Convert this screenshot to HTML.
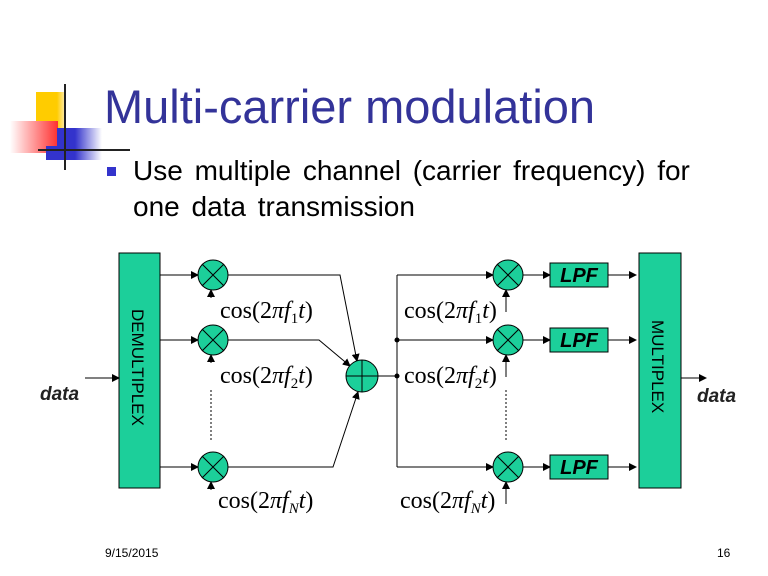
<!DOCTYPE html>
<html><head><style>
body{margin:0;width:768px;height:576px;background:#fff;overflow:hidden;position:relative;font-family:"Liberation Sans",sans-serif}
.a{position:absolute}
</style></head><body>
<div class="a" style="left:36px;top:92px;width:30px;height:38px;background:linear-gradient(90deg,#ffcc00,#ffcc00 70%,#fff0c0)"></div>
<div class="a" style="left:10px;top:121px;width:48px;height:32px;background:linear-gradient(90deg,#fff,#ff3030)"></div>
<div class="a" style="left:57px;top:128px;width:45px;height:32px;background:linear-gradient(90deg,#3333cc,#3333cc 40%,#fff)"></div>
<div class="a" style="left:46px;top:146px;width:14px;height:14px;background:#3333cc"></div>
<div class="a" style="left:64px;top:84px;width:2px;height:86px;background:#222"></div>
<div class="a" style="left:38px;top:149px;width:92px;height:2px;background:#222"></div>
<div class="a" style="left:104px;top:79px;font-size:47px;color:#333399;white-space:nowrap">Multi-carrier modulation</div>
<div class="a" style="left:107px;top:167px;width:9px;height:9px;background:#3333cc"></div>
<div class="a" style="left:133px;top:153px;font-size:28px;word-spacing:4px;line-height:36px;color:#000;width:620px;white-space:nowrap">Use multiple channel (carrier frequency) for<br>one data transmission</div>
<div class="a" style="left:105px;top:546px;font-size:12px">9/15/2015</div>
<div class="a" style="left:717px;top:546px;font-size:12px">16</div>
<svg class="a" style="left:0;top:0" width="768" height="576">
<defs><marker id="m" markerWidth="8" markerHeight="8" refX="7" refY="4" orient="auto" markerUnits="userSpaceOnUse"><path d="M0,0L8,4L0,8z" fill="#000"/></marker></defs>
<g stroke="#000" stroke-width="1" fill="none">
<rect x="119" y="253" width="41" height="235" fill="#1ccf9a"/>
<rect x="639" y="253" width="42" height="235" fill="#1ccf9a"/>
<line x1="85" y1="378" x2="119" y2="378" marker-end="url(#m)"/>
<line x1="681" y1="378" x2="706" y2="378" marker-end="url(#m)"/>
<line x1="160" y1="275" x2="198" y2="275" marker-end="url(#m)"/>
<line x1="160" y1="340" x2="198" y2="340" marker-end="url(#m)"/>
<line x1="160" y1="467" x2="198" y2="467" marker-end="url(#m)"/>
<line x1="211" y1="298" x2="211" y2="290" marker-end="url(#m)"/>
<line x1="211" y1="363" x2="211" y2="355" marker-end="url(#m)"/>
<line x1="211" y1="490" x2="211" y2="482" marker-end="url(#m)"/>
<line x1="211" y1="390" x2="211" y2="442" stroke-dasharray="2,2"/>
<polyline points="228,275 340,275 357,361" marker-end="url(#m)"/>
<polyline points="228,340 319,340 350,366" marker-end="url(#m)"/>
<polyline points="228,467 333,467 358,392" marker-end="url(#m)"/>
<line x1="378" y1="376" x2="397" y2="376"/>
<line x1="397" y1="275" x2="397" y2="467"/>
<line x1="397" y1="275" x2="493" y2="275" marker-end="url(#m)"/>
<line x1="397" y1="340" x2="493" y2="340" marker-end="url(#m)"/>
<line x1="397" y1="467" x2="493" y2="467" marker-end="url(#m)"/>
<line x1="506" y1="312" x2="506" y2="290" marker-end="url(#m)"/>
<line x1="506" y1="377" x2="506" y2="355" marker-end="url(#m)"/>
<line x1="506" y1="504" x2="506" y2="482" marker-end="url(#m)"/>
<line x1="506" y1="390" x2="506" y2="442" stroke-dasharray="2,2"/>
<line x1="523" y1="275" x2="550" y2="275" marker-end="url(#m)"/>
<line x1="523" y1="340" x2="550" y2="340" marker-end="url(#m)"/>
<line x1="523" y1="467" x2="550" y2="467" marker-end="url(#m)"/>
<line x1="608" y1="275" x2="636" y2="275" marker-end="url(#m)"/>
<line x1="608" y1="340" x2="636" y2="340" marker-end="url(#m)"/>
<line x1="608" y1="467" x2="636" y2="467" marker-end="url(#m)"/>
<g fill="#1ccf9a">
<rect x="550" y="263" width="58" height="24"/><rect x="550" y="328" width="58" height="24"/><rect x="550" y="455" width="58" height="24"/>
</g>
<g id="x">
<circle cx="213" cy="275" r="15" fill="#1ccf9a"/><path d="M202,264L224,286M224,264L202,286"/>
<circle cx="213" cy="340" r="15" fill="#1ccf9a"/><path d="M202,329L224,351M224,329L202,351"/>
<circle cx="213" cy="467" r="15" fill="#1ccf9a"/><path d="M202,456L224,478M224,456L202,478"/>
</g>
<use href="#x" x="295"/>
<circle cx="362" cy="376" r="16" fill="#1ccf9a"/><path d="M346,376H378M362,360V392"/>
</g>
<circle cx="397" cy="340" r="2.5"/><circle cx="397" cy="376" r="2.5"/>
<g font-family="Liberation Serif,serif" font-size="24">
<text x="220" y="318">cos(2<tspan font-style="italic">πf</tspan><tspan font-size="15" dy="5">1</tspan><tspan font-style="italic" dy="-5">t</tspan>)</text>
<text x="220" y="383">cos(2<tspan font-style="italic">πf</tspan><tspan font-size="15" dy="5">2</tspan><tspan font-style="italic" dy="-5">t</tspan>)</text>
<text x="218" y="508">cos(2<tspan font-style="italic">πf</tspan><tspan font-size="15" dy="5" font-style="italic">N</tspan><tspan font-style="italic" dy="-5">t</tspan>)</text>
<text x="404" y="318">cos(2<tspan font-style="italic">πf</tspan><tspan font-size="15" dy="5">1</tspan><tspan font-style="italic" dy="-5">t</tspan>)</text>
<text x="404" y="383">cos(2<tspan font-style="italic">πf</tspan><tspan font-size="15" dy="5">2</tspan><tspan font-style="italic" dy="-5">t</tspan>)</text>
<text x="400" y="508">cos(2<tspan font-style="italic">πf</tspan><tspan font-size="15" dy="5" font-style="italic">N</tspan><tspan font-style="italic" dy="-5">t</tspan>)</text>
</g>
<g font-size="20" font-weight="bold" font-style="italic" text-anchor="middle">
<text x="579" y="282">LPF</text><text x="579" y="347">LPF</text><text x="579" y="474">LPF</text>
</g>
<g font-size="19" font-weight="bold" font-style="italic" fill="#222">
<text x="40" y="400">data</text><text x="697" y="402">data</text>
</g>
<text transform="translate(132,309) rotate(90)" font-size="17">DEMULTIPLEX</text>
<text transform="translate(652,320) rotate(90)" font-size="17">MULTIPLEX</text>
</svg>
</body></html>
